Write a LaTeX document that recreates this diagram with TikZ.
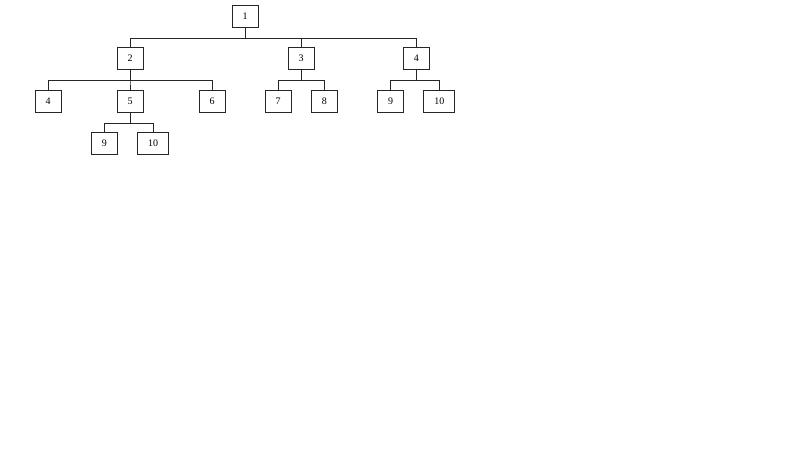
\documentclass[tikz,border=0pt]{standalone}
\usepackage{fontspec}
\setmainfont{Liberation Serif}
\begin{document}
\begin{tikzpicture}[x=1pt,y=-1pt,
  box/.style={draw=black!85,line width=0.8pt,minimum width=26pt,minimum height=22pt,inner xsep=10.5pt,inner ysep=0pt,font=\fontsize{10}{12}\selectfont},
  conn/.style={draw=black!85,line width=0.8pt}]
\useasboundingbox (0,0) rectangle (800,450);
\node[box] (r) at (245,16) {1};
\node[box] (a) at (130,58.5) {2};
\node[box] (b) at (301,58.5) {3};
\node[box] (c) at (416.3,58.5) {4};
\node[box] (a1) at (48,101) {4};
\node[box] (a2) at (130,101) {5};
\node[box] (a3) at (212,101) {6};
\node[box] (b1) at (278,101) {7};
\node[box] (b2) at (324.3,101) {8};
\node[box] (c1) at (390.5,101) {9};
\node[box] (c2) at (439.3,101) {10};
\node[box] (d1) at (104.3,143.5) {9};
\node[box] (d2) at (153,143.5) {10};
\foreach \p/\k in {r/a,r/b,r/c,a/a1,a/a2,a/a3,b/b1,b/b2,c/c1,c/c2,a2/d1,a2/d2}
  \draw[conn] (\p.south) -- ++(0,10.6) -| (\k.north);
\end{tikzpicture}
\end{document}
